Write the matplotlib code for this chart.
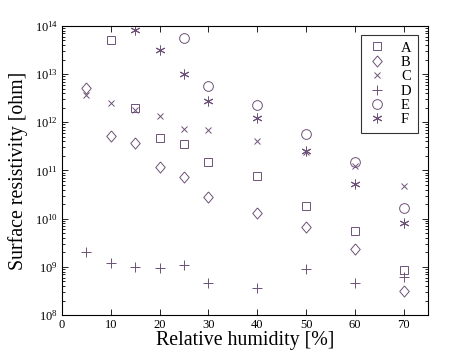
import numpy as np
import matplotlib
matplotlib.use('Agg')
import matplotlib.pyplot as plt
from matplotlib.ticker import NullFormatter, FixedLocator, LogFormatterSciNotation

plt.rcParams['font.family'] = ['Liberation Serif', 'DejaVu Serif']
plt.rcParams['mathtext.fontset'] = 'stix'

# data (humidity %, resistivity ohm)
x_a = [10, 15, 20, 25, 30, 40, 50, 60, 70]
y_a = [5.1e13, 2.0e12, 4.7e11, 3.6e11, 1.5e11, 7.8e10, 1.8e10, 5.5e9, 8.6e8]
x_b = [5, 10, 15, 20, 25, 30, 40, 50, 60, 70]
y_b = [5.2e12, 5.2e11, 3.8e11, 1.2e11, 7.2e10, 2.8e10, 1.33e10, 6.8e9, 2.3e9, 3.2e8]
x_c = [5, 10, 15, 20, 25, 30, 40, 50, 60, 70]
y_c = [3.7e12, 2.5e12, 1.8e12, 1.35e12, 7.3e11, 6.9e11, 4.0e11, 2.4e11, 1.25e11, 4.8e10]
x_d = [5, 10, 15, 20, 25, 30, 40, 50, 60, 70]
y_d = [2.0e9, 1.2e9, 1.0e9, 9.5e8, 1.1e9, 4.7e8, 3.6e8, 8.9e8, 4.7e8, 6.3e8]
x_e = [25, 30, 40, 50, 60, 70]
y_e = [5.7e13, 5.7e12, 2.3e12, 5.6e11, 1.5e11, 1.7e10]
x_f = [15, 20, 25, 30, 40, 50, 60, 70]
y_f = [8.3e13, 3.1e13, 1.0e13, 2.8e12, 1.2e12, 2.5e11, 5.2e10, 8.3e9]
labels = ['A', 'B', 'C', 'D', 'E', 'F']

col = '#6e5278'
fig = plt.figure(figsize=(4.74, 3.54), dpi=100)
ax = fig.add_axes([0.131, 0.110, 0.772, 0.817])

# matlab style diamond, a bit taller than wide
diamond = [(0, 1), (0.85, 0), (0, -1), (-0.85, 0), (0, 1)]

kw = dict(ls='none', mfc='none', mec=col, mew=0.7)
ax.plot(x_a, y_a, marker='s', ms=6.3, label=labels[0], **kw)
ax.plot(x_b, y_b, marker=diamond, ms=8, label=labels[1], **kw)
ax.plot(x_c, y_c, marker='x', ms=5, label=labels[2], **kw)
ax.plot(x_d, y_d, marker='+', ms=7, label=labels[3], **kw)
ax.plot(x_e, y_e, marker='o', ms=7, label=labels[4], **kw)
ax.plot(x_f, y_f, marker=(6, 2, 0), ms=7, label=labels[5], **kw)

ax.set_yscale('log')
ax.set_xlim(0, 75)
ax.set_ylim(1e8, 1e14)
ax.set_xticks(np.arange(0, 80, 10))
ax.yaxis.set_major_locator(FixedLocator([10.0 ** e for e in range(8, 15)]))
ax.yaxis.set_major_formatter(LogFormatterSciNotation())
minor = [m * 10.0 ** e for e in range(8, 14) for m in range(2, 10)]
ax.yaxis.set_minor_locator(FixedLocator(minor))
ax.yaxis.set_minor_formatter(NullFormatter())
ax.tick_params(which='both', direction='in', top=True, right=True, labelsize=9, width=0.6)
ax.tick_params(which='major', length=4, pad=3)
ax.tick_params(which='minor', length=2, labelleft=False)
for s in ax.spines.values():
    s.set_linewidth(0.8)

ax.set_xlabel('Relative humidity [%]', fontsize=14.3, labelpad=0)
ax.set_ylabel('Surface resistivity [ohm]', fontsize=14.3, labelpad=5)

leg = ax.legend(loc='upper right', bbox_to_anchor=(0.973, 0.969), borderaxespad=0,
                fontsize=10.5, frameon=True, fancybox=False, edgecolor='black',
                handlelength=1.3, handletextpad=1.0, labelspacing=0.08, borderpad=0.45)
leg.get_frame().set_linewidth(0.8)

fig.savefig('out.png', dpi=100)
